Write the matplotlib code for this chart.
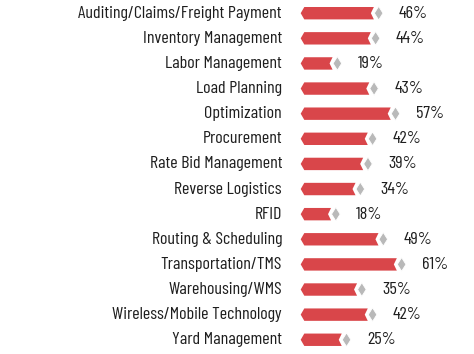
import matplotlib
matplotlib.use('Agg')
import matplotlib.pyplot as plt
from matplotlib.patches import Polygon

categories = ['Auditing/Claims/Freight Payment', 'Inventory Management', 'Labor Management',
              'Load Planning', 'Optimization', 'Procurement', 'Rate Bid Management',
              'Reverse Logistics', 'RFID', 'Routing & Scheduling', 'Transportation/TMS',
              'Warehousing/WMS', 'Wireless/Mobile Technology', 'Yard Management']
values = [46, 44, 19, 43, 57, 42, 39, 34, 18, 49, 61, 35, 42, 25]

W, H = 474, 354
x0_px = 303.5    # pixel where 0% sits
px_x = 1.53      # pixels per percent
y0_px = 13.2     # first row centre
px_y = 25.12     # pixels per row

fig = plt.figure(figsize=(W / 100, H / 100), dpi=100)
ax = fig.add_axes([x0_px / W, 0, 1 - x0_px / W, 1])
ax.set_xlim(0, (W - x0_px) / px_x)
ax.set_ylim((H - y0_px) / px_y, -y0_px / px_y)
ax.axis('off')

font = ['Barlow Condensed', 'Roboto Condensed', 'DejaVu Sans']
red = '#d9464a'
gray = '#b9b9b9'

def dx(p):
    return p / px_x

def dy(p):
    return p / px_y

h = 6.2
for i, (cat, v) in enumerate(zip(categories, values)):
    bar = [(-dx(2.8), i), (dx(0.8), i - dy(h)), (v, i - dy(h)), (v - dx(3), i),
           (v, i + dy(h)), (dx(0.8), i + dy(h))]
    ax.add_patch(Polygon(bar, closed=True, facecolor=red, edgecolor='none', clip_on=False))
    cx = v + dx(4.8)
    dia = [(cx - dx(4.3), i), (cx, i - dy(6.8)), (cx + dx(4.3), i), (cx, i + dy(6.8))]
    ax.add_patch(Polygon(dia, closed=True, facecolor=gray, edgecolor='white', linewidth=0.6))
    ax.text(v + dx(25), i, f'{v}%', ha='left', va='center', fontsize=13,
            family=font, color='#1e1e1e')
    ax.text(-dx(21.5), i, cat, ha='right', va='center', fontsize=13,
            family=font, color='#1e1e1e', clip_on=False)

fig.savefig('out.png', dpi=100)
